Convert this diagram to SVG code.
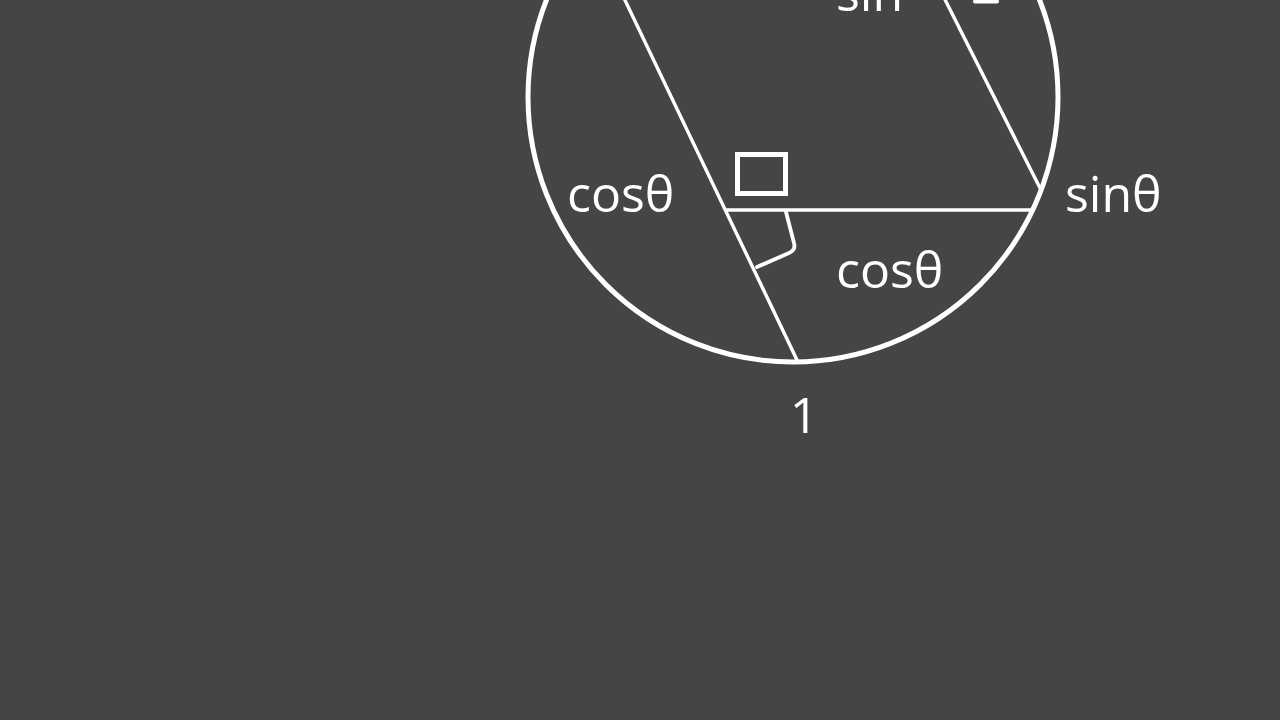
<svg xmlns="http://www.w3.org/2000/svg" width="1280" height="720" viewBox="0 0 1280 720">
<style>
.ln{stroke:#ffffff;stroke-width:3.4;fill:none;stroke-linecap:round;stroke-linejoin:round}
.circ{stroke:#ffffff;stroke-width:5;fill:none}
.lbl{font-family:"Open Sans","Noto Sans","DejaVu Sans",sans-serif;font-size:50px;fill:#ffffff}
</style>
<rect x="0" y="0" width="1280" height="720" fill="#454545"/>
<g id="circle">
<circle class="circ" cx="793" cy="97" r="265"/>
</g>
<g id="connectors">
<path class="ln" d="M601,-50 L797,360"/>
<path class="ln" d="M920,-50 L1041,190"/>
<path class="ln" d="M727,210 L1033,210"/>
<path class="ln" d="M786,212 L794,243 Q796,250 789,253 L757,267" style="stroke-width:3.8"/>
<path class="ln" d="M975,1.5 L997,1.5" style="stroke-width:4"/>
</g>
<g id="square-marker">
<rect x="737.5" y="154.5" width="48" height="39" fill="none" stroke="#ffffff" stroke-width="5"/>
</g>
<g id="labels">
<text class="lbl" x="836" y="11">sin</text>
<text class="lbl" x="567" y="212">cosθ</text>
<text class="lbl" x="1065" y="212">sinθ</text>
<text class="lbl" x="836" y="288">cosθ</text>
<text class="lbl" x="804" y="433" text-anchor="middle">1</text>
</g>
</svg>
